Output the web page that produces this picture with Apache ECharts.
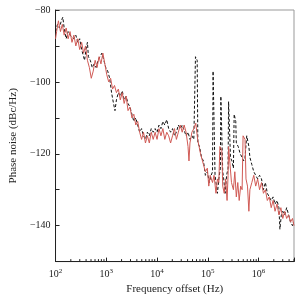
<!DOCTYPE html>
<html><head><meta charset="utf-8">
<script src="https://cdn.jsdelivr.net/npm/echarts@6/dist/echarts.min.js"></script>
<style>html,body{margin:0;padding:0;background:#fff}#c{width:297px;height:300px}</style>
</head><body><div id="c"></div>
<script>
// Black dashed series
const blackFreq = [100,109,119,130,139,148,162,177,193,211,230,251,274,299,327,357,373,398,425,444,484,529,577,630,688,751,820,895,977,1067,1165,1271,1388,1483,1584,1730,1888,2062,2251,2457,2683,2929,3198,3491,3811,4161,4543,4960,5415,5912,6454,7047,7693,8400,9170,10012,10931,11934,13030,14226,15531,16957,18513,20212,22067,24092,26303,28717,31352,34230,37371,40801,44545,48634,53097,
  55000,57200,61800,63700,68800,75200,82200,89700,98000,107000,116500,124000,127200,136000,139000,145000,155000,165000,177000,181000,193000,197000,206000,220000,235000,251000,257000,274000,280000,299000,320000,331000,356000,365000,398000,435000,475000,508000,542000,566000,586000,626000,645000,676000,
  738000,806000,880000,961000,1049000,1145000,1250000,1365000,1490000,1627000,1776000,1939000,2117000,2312000,2524000,2637000,2815000,3006000,3282000,3583000,3911000,4271000,4663000,4870000];
const blackVal = [-86,-84,-85,-83,-82,-85,-88,-86,-87,-86.5,-88,-87,-89,-88,-91,-93,-94,-91,-89,-93,-94,-96,-95,-96,-94,-93,-92,-94,-96,-97,-99,-103,-106,-108,-105,-103,-104,-102.5,-105,-104,-106,-107,-109,-111,-110,-112,-114,-113,-115,-116,-114,-115,-113,-114,-113,-114,-112,-113,-111,-112,-110.5,-113,-114,-113,-115,-114,-112,-113,-112,-113.5,-115,-114,-116,-115,-116,
  -116,-93,-94,-117,-118,-121,-122,-126,-125,-128,-126,-125,-97,-97,-126,-128,-131,-127,-124,-104,-104,-125,-127,-131,-126,-124,-105.5,-106,-121,-122,-124,-109,-111,-117,-118,-120,-121,-122,-121,-121,-115,-115.5,-118,-121,
  -123,-125,-126,-127,-126,-127,-130,-128,-131,-132,-133,-132,-134,-133,-135,-141,-137,-136,-137,-135,-137,-139,-140,-139];
// Red solid series
const redFreq = [100,105,114,125,136,148,162,177,193,211,230,251,274,299,327,357,390,425,464,506,553,603,659,719,785,857,936,1022,1116,1218,1330,1452,1584,1730,1888,2062,2251,2457,2683,2929,3198,3491,3811,4161,4543,4960,5415,5912,6454,7047,7693,8400,9170,10012,10931,11934,13030,14226,15531,16957,18513,20212,22067,24092,26303,28717,31352,34230,37371,40801,42600,44545,48634,53097,58000,
  63200,71900,82200,89700,98000,104600,111600,124000,132900,145000,155000,165000,173000,189000,197000,211000,225000,240000,251000,257000,280000,293000,320000,341000,365000,390000,416000,445000,475000,496000,542000,566000,606000,645000,676000,738000,806000,
  880000,961000,1049000,1145000,1250000,1365000,1490000,1627000,1776000,1939000,2117000,2312000,2524000,2756000,3006000,3282000,3583000,3911000,4271000,4663000,5000000];
const redVal = [-88,-86,-83,-86,-84,-87,-85,-88,-86,-89,-87,-90,-88,-91,-89,-92,-90,-94,-96,-99,-97,-94,-96,-93,-95,-92,-95,-98,-100,-99,-102,-101,-103,-102,-105,-103,-106,-104,-108,-107,-110,-109,-112,-111,-114,-116,-114,-117,-115,-117,-114,-116,-114,-116,-113,-115,-113,-116,-114,-115,-117,-115,-113,-116,-114,-112,-114,-112,-114,-118,-122,-117,-114,-113,-111.5,
  -116,-120,-123,-125,-124,-129,-126,-128,-126,-131,-127,-128,-118,-119,-129,-131,-127,-133,-126,-118,-118,-128,-130,-125,-132,-128,-133,-129,-130,-115,-116,-127,-129,-136,-130,-128,-126,
  -129,-127,-130,-128,-131,-130,-133,-132,-135,-133,-136,-134,-137,-135,-138,-136,-138,-137,-139,-138,-140];
// Axis ticks
const minorTickFreq = [200,300,400,500,600,700,800,900,2000,3000,4000,5000,6000,7000,8000,9000,20000,30000,40000,50000,60000,70000,80000,90000,200000,300000,400000,500000,600000,700000,800000,900000,2000000,3000000,4000000,5000000];
const yTickLabels = [-80,-100,-120,-140];

const font = 'Liberation Serif';
const chart = echarts.init(document.getElementById('c'), null, {renderer:'canvas'});
const zip = (a,b)=>a.slice(0,Math.min(a.length,b.length)).map((v,i)=>[v,b[i]]);
chart.setOption({
  animation:false,
  grid:{left:47,right:3,top:10,bottom:35,show:true,borderColor:'#999',borderWidth:1},
  xAxis:{type:'log',logBase:10,min:100,max:5000000,
    name:'Frequency offset (Hz)',nameLocation:'middle',nameGap:21,
    nameTextStyle:{fontFamily:font,fontSize:11,color:'#222'},
    axisLine:{lineStyle:{color:'#222',width:1}},
    axisTick:{inside:true,length:4,lineStyle:{color:'#222'}},
    splitLine:{show:false},
    axisLabel:{margin:6,color:'#222',
      formatter:function(v){const l=Math.log10(v);const e=Math.round(l);if(Math.abs(l-e)>0.01)return '';return '{b|10}{s|'+e+'}';},
      rich:{b:{fontFamily:font,fontSize:10,color:'#222'},s:{fontFamily:font,fontSize:7,color:'#222',padding:[0,0,6,0]}}}
  },
  yAxis:{type:'value',min:-150,max:-80,interval:10,
    name:'Phase noise (dBc/Hz)',nameLocation:'middle',nameGap:34,
    nameTextStyle:{fontFamily:font,fontSize:11,color:'#222'},
    axisLine:{show:true,lineStyle:{color:'#222',width:1}},
    axisTick:{show:true,inside:true,length:4,lineStyle:{color:'#222'}},
    splitLine:{show:false},
    axisLabel:{margin:5,fontFamily:font,fontSize:10,color:'#222',
      formatter:function(v){return yTickLabels.indexOf(v)>=0?String(v).replace('-','\u2212'):'';}}
  },
  series:[
    {type:'custom',silent:true,data:minorTickFreq.map(f=>[f,-150]),
      renderItem:function(params,api){const p=api.coord([api.value(0),-150]);
        return {type:'line',shape:{x1:p[0],y1:p[1],x2:p[0],y2:p[1]-2.5},style:{stroke:'#222',lineWidth:1}};},
      z:3},
    {type:'line',data:zip(blackFreq,blackVal),showSymbol:false,
      lineStyle:{color:'#111',width:1,type:[3,2]},z:2},
    {type:'line',data:zip(redFreq,redVal),showSymbol:false,
      lineStyle:{color:'#d05a55',width:1},z:3}
  ]
});
</script></body></html>
